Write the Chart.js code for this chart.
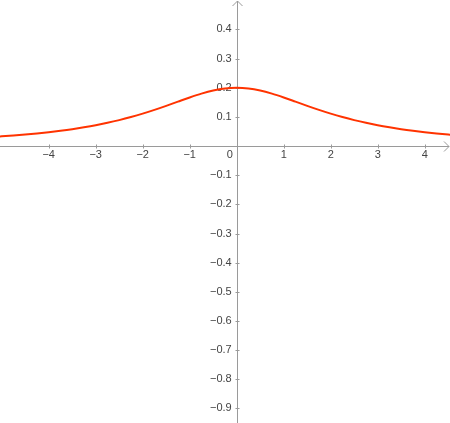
<!DOCTYPE html>
<html><head><meta charset="utf-8">
<script src="https://cdn.jsdelivr.net/npm/chart.js@4/dist/chart.umd.min.js"></script>
<style>html,body{margin:0;padding:0;background:#fff}#wrap{width:450px;height:423px;position:relative}</style>
</head><body><div id="wrap"><canvas id="c"></canvas></div>
<script>
const xValues = [-5.25,-5,-4.75,-4.5,-4.25,-4,-3.75,-3.5,-3.25,-3,-2.75,-2.5,-2.25,-2,-1.75,-1.5,-1.25,-1,-0.75,-0.5,-0.25,0,0.25,0.5,0.75,1,1.25,1.5,1.75,2,2.25,2.5,2.75,3,3.25,3.5,3.75,4,4.25,4.5,4.75];
const yValues = [0.0307,0.0333,0.0363,0.0396,0.0434,0.0476,0.0525,0.0580,0.0643,0.0714,0.0796,0.0889,0.0994,0.1111,0.1240,0.1379,0.1524,0.1667,0.1798,0.1905,0.1975,0.2,0.1975,0.1905,0.1798,0.1667,0.1524,0.1379,0.1240,0.1111,0.0994,0.0889,0.0796,0.0714,0.0643,0.0580,0.0525,0.0476,0.0434,0.0396,0.0363];
const xTicks = [-4,-3,-2,-1,0,1,2,3,4];
const yTicks = [0.4,0.3,0.2,0.1,-0.1,-0.2,-0.3,-0.4,-0.5,-0.6,-0.7,-0.8,-0.9];
const xRange = [-5.036, 4.538];
const yRange = [-0.95, 0.501];

function fmt(v){ const s = (Math.round(v*10)/10).toString(); return s.replace('-', '\u2212'); }

const axesPlugin = {
  id: 'geoAxes',
  beforeDatasetsDraw(chart){
    const ctx = chart.ctx, xs = chart.scales.x, ys = chart.scales.y;
    const x0 = xs.getPixelForValue(0), y0 = ys.getPixelForValue(0);
    const L = chart.chartArea;
    ctx.save();
    ctx.strokeStyle = '#9a9a9a'; ctx.lineWidth = 1;
    ctx.beginPath();
    ctx.moveTo(L.left, Math.round(y0)+0.5); ctx.lineTo(L.right-1, Math.round(y0)+0.5);
    ctx.moveTo(Math.round(x0)+0.5, L.bottom); ctx.lineTo(Math.round(x0)+0.5, L.top+1);
    ctx.stroke();
    // arrows
    ctx.beginPath();
    const ay = Math.round(y0)+0.5, ax = Math.round(x0)+0.5;
    ctx.moveTo(L.right-6, ay-5); ctx.lineTo(L.right-1, ay); ctx.lineTo(L.right-6, ay+5);
    ctx.moveTo(ax-5, L.top+6); ctx.lineTo(ax, L.top+1); ctx.lineTo(ax+5, L.top+6);
    ctx.stroke();
    // ticks
    ctx.beginPath();
    xTicks.forEach(t=>{ if(t===0) return; const px=Math.round(xs.getPixelForValue(t))+0.5; ctx.moveTo(px, ay-2); ctx.lineTo(px, ay+2); });
    yTicks.forEach(t=>{ const py=Math.round(ys.getPixelForValue(t))+0.5; ctx.moveTo(ax-2, py); ctx.lineTo(ax+2, py); });
    ctx.stroke();
    // labels
    ctx.fillStyle = '#444'; ctx.font = '11px "Liberation Sans", Arial, sans-serif';
    ctx.textBaseline = 'middle';
    xTicks.forEach(t=>{
      const px = xs.getPixelForValue(t);
      if(t===0){ ctx.textAlign='center'; ctx.fillText('0', x0-7, y0+9); }
      else { ctx.textAlign='center'; ctx.fillText(fmt(t), px, y0+9); }
    });
    ctx.textAlign='right';
    yTicks.forEach(t=>{ ctx.fillText(fmt(t), x0-5, ys.getPixelForValue(t)); });
    ctx.restore();
  }
};

new Chart(document.getElementById('c'), {
  type: 'scatter',
  data: { datasets: [{
    data: xValues.map((x,i)=>({x:x, y:yValues[i]})),
    showLine: true, borderColor: 'rgb(255,51,0)', borderWidth: 2, pointRadius: 0,
    cubicInterpolationMode: 'monotone', fill: false
  }]},
  options: {
    responsive: true, maintainAspectRatio: false, animation: false,
    layout: { padding: 0 },
    plugins: { legend: {display:false}, tooltip: {enabled:false} },
    scales: {
      x: { type:'linear', min: xRange[0], max: xRange[1], display: false },
      y: { type:'linear', min: yRange[0], max: yRange[1], display: false }
    }
  },
  plugins: [axesPlugin]
});
</script></body></html>
